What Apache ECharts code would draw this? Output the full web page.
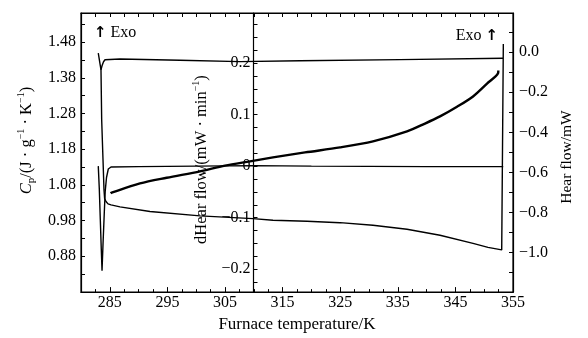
<!DOCTYPE html>
<html>
<head>
<meta charset="utf-8">
<script src="https://cdn.jsdelivr.net/npm/echarts@6/dist/echarts.min.js"></script>
<style>html,body{margin:0;padding:0;background:#fff}#c{width:588px;height:338px}</style>
</head>
<body>
<div id="c"></div>
<script>
// ---- tick / label values ----
const xMajorTicks = [285, 295, 305, 315, 325, 335, 345, 355];
const xMinorTicks = [282.5, 285, 287.5, 290, 292.5, 295, 297.5, 300, 302.5, 305, 307.5, 310, 312.5, 315, 317.5, 320, 322.5, 325, 327.5, 330, 332.5, 335, 337.5, 340, 342.5, 345, 347.5, 350, 352.5];
const cpTicks = [0.83, 0.88, 0.93, 0.98, 1.03, 1.08, 1.13, 1.18, 1.23, 1.28, 1.33, 1.38, 1.43, 1.48, 1.53];
const cpLabels = [0.88, 0.98, 1.08, 1.18, 1.28, 1.38, 1.48];
const dhfTicks = [-0.225, -0.2, -0.175, -0.15, -0.125, -0.1, -0.075, -0.05, -0.025, 0, 0.025, 0.05, 0.075, 0.1, 0.125, 0.15, 0.175, 0.2, 0.225, 0.25, 0.275];
const dhfLabels = [-0.2, -0.1, 0, 0.1, 0.2];
const hfTicks = [-1.1, -1.0, -0.9, -0.8, -0.7, -0.6, -0.5, -0.4, -0.3, -0.2, -0.1, 0, 0.1];
const hfLabels = [-1.0, -0.8, -0.6, -0.4, -0.2, 0];

// ---- Cp (J g^-1 K^-1) vs furnace temperature (K) ----
const cpT   = [285.16, 285.33, 290.24, 294.88, 300.66, 305.0, 309.34, 313.33, 318.89, 324.97, 330.69, 336.60, 339.72, 342.33, 345.28, 348.06, 350.49, 352.40, 352.45];
const cpVal = [1.056, 1.058, 1.084, 1.100, 1.118, 1.134, 1.146, 1.157, 1.171, 1.185, 1.202, 1.230, 1.252, 1.272, 1.299, 1.328, 1.364, 1.393, 1.401];

// ---- Heat flow (mW), heating run ----
const hfT   = [283.00, 283.47, 283.59, 283.82, 283.99, 284.10, 284.34, 284.69, 285.21, 286.77, 291.98, 300.66, 309.86, 313.33, 319.24, 324.97, 330.69, 336.60, 342.33, 348.06, 350.66, 353.04, 353.32, 353.32];
const hfVal = [-0.005, -0.088, -0.337, -0.536, -0.685, -0.730, -0.745, -0.757, -0.762, -0.772, -0.795, -0.817, -0.831, -0.839, -0.844, -0.851, -0.864, -0.884, -0.914, -0.954, -0.974, -0.987, -0.987, 0.041];

// ---- Heat flow (mW), upper trace ----
const hf2T   = [283.47, 283.65, 283.91, 284.17, 284.51, 286.77, 297.19, 307.60, 318.02, 335.38, 353.26];
const hf2Val = [-0.088, -0.068, -0.048, -0.038, -0.035, -0.034, -0.040, -0.047, -0.043, -0.037, -0.030];

// ---- dHeat flow (mW/min) ----
const dhfT   = [283.00, 283.18, 283.35, 283.52, 283.65, 283.82, 284.03, 284.20, 284.43, 284.74, 285.21, 290, 300, 310, 320, 330, 340, 350, 353.3];
const dhfVal = [0.000, -0.045, -0.103, -0.161, -0.203, -0.152, -0.094, -0.049, -0.022, -0.0055, -0.0016, -0.001, 0.0, 0.001, 0.0, -0.0005, -0.001, -0.001, -0.001];

const zip = (a, b) => a.map((v, i) => [v, b[i]]);
const FONT = 'Liberation Serif';
const minus = v => (v < 0 ? '\u2212' : '');

const chart = echarts.init(document.getElementById('c'), null, {renderer: 'canvas'});
const option = {
  backgroundColor: '#fff',
  animation: false,
  textStyle: {fontFamily: FONT, color: '#000'},
  grid: {left: 81, top: 13, width: 432, height: 280, show: true, borderColor: '#000', borderWidth: 1.2, containLabel: false},
  xAxis: [
    {
      type: 'value', position: 'bottom', min: 280, max: 355,
      axisLine: {onZero: false, lineStyle: {color: '#000', width: 1.2}},
      splitLine: {show: false},
      axisTick: {inside: true, length: 5, customValues: xMajorTicks, lineStyle: {color: '#000', width: 1}},
      axisLabel: {customValues: xMajorTicks, color: '#000', fontSize: 16, margin: 3, fontFamily: FONT},
      name: 'Furnace temperature/K', nameLocation: 'middle', nameGap: 20,
      nameTextStyle: {fontSize: 17, color: '#000', fontFamily: FONT}
    },
    {
      type: 'value', position: 'bottom', min: 280, max: 355,
      axisLine: {show: false, onZero: false}, splitLine: {show: false},
      axisTick: {inside: true, length: 3, customValues: xMinorTicks, lineStyle: {color: '#000', width: 1}},
      axisLabel: {show: false}
    },
    {
      type: 'value', position: 'top', min: 280, max: 355,
      axisLine: {onZero: false, lineStyle: {color: '#000', width: 1.2}}, splitLine: {show: false},
      axisTick: {inside: true, length: 4, customValues: xMinorTicks, lineStyle: {color: '#000', width: 1}},
      axisLabel: {show: false}
    }
  ],
  yAxis: [
    {
      type: 'value', position: 'left', min: 0.7794, max: 1.5619,
      axisLine: {onZero: false, lineStyle: {color: '#000', width: 1.2}}, splitLine: {show: false},
      axisTick: {inside: true, length: 4, customValues: cpTicks, lineStyle: {color: '#000', width: 1}},
      axisLabel: {customValues: cpLabels, color: '#000', fontSize: 16, margin: 5, fontFamily: FONT, formatter: v => v.toFixed(2)},
      name: '{i|C}{sub|p}{n|/(J · g}{sup|\u22121}{n| · K}{sup|\u22121}{n|)}',
      nameLocation: 'middle', nameGap: 41, nameRotate: 90,
      nameTextStyle: {
        padding: [0, 0, 0, 24],
        rich: {
          i: {fontSize: 16.5, fontStyle: 'italic', fontFamily: FONT, color: '#000', lineHeight: 21, verticalAlign: 'middle'},
          n: {fontSize: 16.5, fontFamily: FONT, color: '#000', lineHeight: 21, verticalAlign: 'middle'},
          sup: {fontSize: 10, fontFamily: FONT, color: '#000', lineHeight: 21, verticalAlign: 'top'},
          sub: {fontSize: 11, fontFamily: FONT, color: '#000', lineHeight: 21, verticalAlign: 'bottom'}
        }
      }
    },
    {
      type: 'value', position: 'left', offset: -172.5, min: -0.2445, max: 0.2973,
      axisLine: {show: true, onZero: false, lineStyle: {color: '#000', width: 1.2}}, splitLine: {show: false},
      axisTick: {inside: true, length: 4, customValues: dhfTicks, lineStyle: {color: '#000', width: 1}},
      axisLabel: {customValues: dhfLabels, color: '#000', fontSize: 16, margin: 3, fontFamily: FONT,
        formatter: v => Math.abs(v) < 1e-9 ? '0' : minus(v) + Math.abs(v).toFixed(1)},
      name: '{n|dHear flow/(mW · min}{sup|\u22121}{n|)}',
      nameLocation: 'middle', nameGap: 39, nameRotate: 90,
      nameTextStyle: {
        padding: [0, 14, 0, 0],
        rich: {
          n: {fontSize: 16.5, fontFamily: FONT, color: '#000', lineHeight: 21, verticalAlign: 'middle'},
          sup: {fontSize: 10, fontFamily: FONT, color: '#000', lineHeight: 21, verticalAlign: 'top'}
        }
      }
    },
    {
      type: 'value', position: 'right', min: -1.1975, max: 0.1955,
      axisLine: {onZero: false, lineStyle: {color: '#000', width: 1.2}}, splitLine: {show: false},
      axisTick: {inside: true, length: 4, customValues: hfTicks, lineStyle: {color: '#000', width: 1}},
      axisLabel: {customValues: hfLabels, color: '#000', fontSize: 16, margin: 6, fontFamily: FONT,
        formatter: v => Math.abs(v) < 1e-9 ? '0.0' : minus(v) + Math.abs(v).toFixed(1)},
      name: 'Hear flow/mW', nameLocation: 'middle', nameGap: 45, nameRotate: 90,
      nameTextStyle: {fontSize: 15.5, color: '#000', fontFamily: FONT, padding: [0, 9, 0, 0]}
    }
  ],
  graphic: [
    {type: 'text', left: 94, top: 25, style: {text: '{a|\u2191} Exo', font: '16px "Liberation Serif"', fill: '#000',
      rich: {a: {fontSize: 15, fontWeight: 'bold', fontFamily: 'DejaVu Sans', fill: '#000'}}}},
    {type: 'text', right: 90, top: 28, style: {text: 'Exo {a|\u2191}', font: '16px "Liberation Serif"', fill: '#000',
      rich: {a: {fontSize: 15, fontWeight: 'bold', fontFamily: 'DejaVu Sans', fill: '#000'}}}}
  ],
  series: [
    {name: 'Heat flow', type: 'line', xAxisIndex: 0, yAxisIndex: 2, data: zip(hfT, hfVal), symbol: 'none',
      lineStyle: {color: '#000', width: 1.4}},
    {name: 'Heat flow 2', type: 'line', xAxisIndex: 0, yAxisIndex: 2, data: zip(hf2T, hf2Val), symbol: 'none',
      lineStyle: {color: '#000', width: 1.4}},
    {name: 'dHeat flow', type: 'line', xAxisIndex: 0, yAxisIndex: 1, data: zip(dhfT, dhfVal), symbol: 'none',
      lineStyle: {color: '#000', width: 1.4}},
    {name: 'Cp', type: 'line', xAxisIndex: 0, yAxisIndex: 0, data: zip(cpT, cpVal), symbol: 'none', smooth: 0.3,
      lineStyle: {color: '#000', width: 2.4}}
  ]
};
chart.setOption(option);
</script>
</body>
</html>
